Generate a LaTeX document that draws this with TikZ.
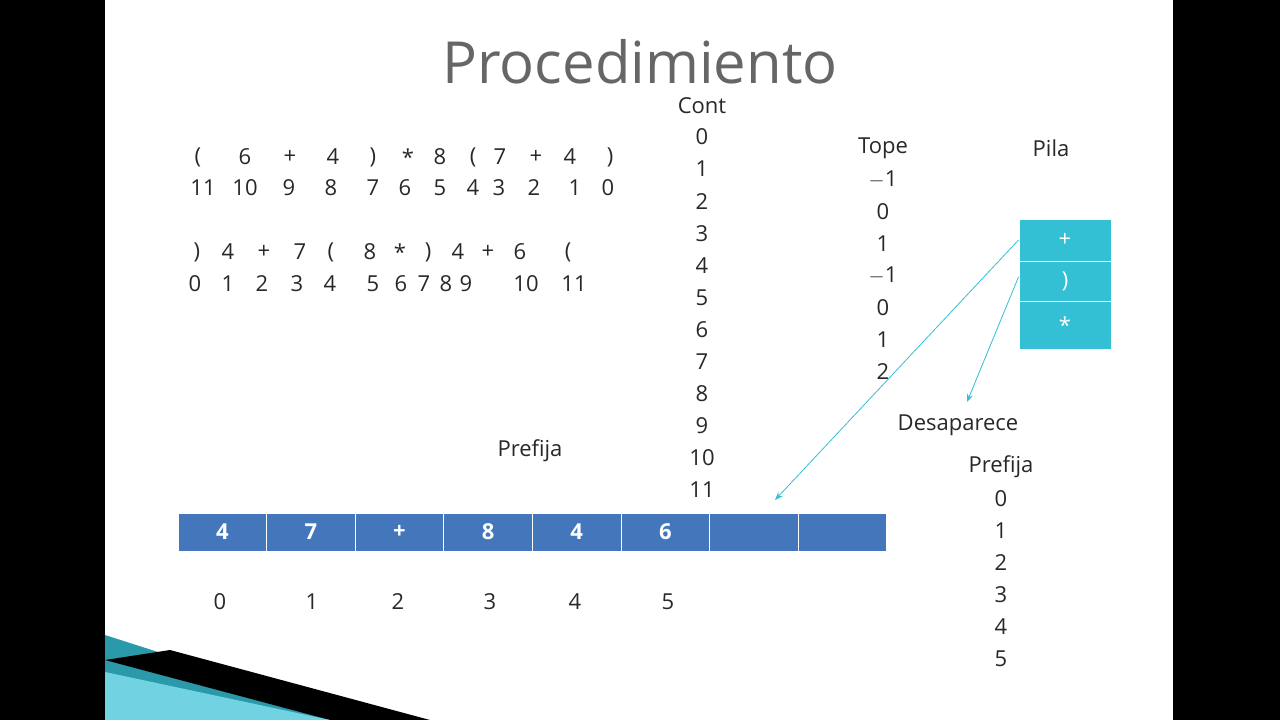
\documentclass[tikz,border=0pt]{standalone}
\usepackage{fontspec}
\setmainfont{Open Sans}
\usetikzlibrary{arrows.meta}
\definecolor{teal1}{RGB}{52,192,212}
\definecolor{arr}{RGB}{68,118,188}
\definecolor{txt}{RGB}{40,40,40}
\newcommand{\lp}{(}
\newcommand{\rp}{)}
\begin{document}
\begin{tikzpicture}[x=1pt,y=-1pt,
  t/.style={font=\fontsize{22}{24}\selectfont,text=txt,inner sep=0pt},
  cell/.style={draw=white,line width=1pt,fill=arr,minimum width=88.6pt,minimum height=38pt,inner sep=0pt,text=white,font=\fontsize{22}{24}\selectfont\bfseries},
  pcell/.style={draw=white,line width=1pt,fill=teal1,minimum width=92pt,inner sep=0pt,text=white,font=\fontsize{22}{24}\selectfont},
  conn/.style={teal1,line width=0.8pt,-{Stealth[length=8pt]}}]
\useasboundingbox (0,0) rectangle (1280,720);
\fill[black] (0,0) rectangle (1280,720);
\fill[white] (105,0) rectangle (1173,720);
\fill[teal1!80!black] (105,635) -- (370,720) -- (105,720) -- cycle;
\fill[black] (105,660) -- (170,650) -- (430,720) -- (330,720) -- cycle;
\fill[teal1!70] (105,672) -- (330,720) -- (105,720) -- cycle;
\node[text=black!60,font=\fontsize{58}{60}\selectfont,inner sep=0pt] (title) at (640,62) {Procedimiento};
\foreach \s/\x in {\lp/198,6/245,+/290,4/333,\rp/373,*/408,8/440,\lp/473,7/500,+/536,4/570,\rp/610}
  \node[t] at (\x,157) {\s};
\foreach \s/\x in {11/203,10/245,9/289,8/331,7/373,6/405,5/440,4/473,3/499,2/534,1/575,0/608}
  \node[t] at (\x,188) {\s};
\foreach \s/\x in {\rp/197,4/228,+/264,7/300,\lp/331,8/370,*/400,\rp/428,4/458,+/488,6/520,\lp/568}
  \node[t] at (\x,252) {\s};
\foreach \s/\x in {0/195,1/228,2/262,3/297,4/330,5/373,6/401,7/424,8/446,9/466,10/526,11/574}
  \node[t] at (\x,284) {\s};
\node[t] (cont) at (702,106) {Cont};
\foreach \i in {0,...,11} \node[t] at (702,137+32.1*\i) {\i};
\node[t] (tope) at (883,148) {Tope};
\foreach \s/\i in {$-$1/0,0/1,1/2,$-$1/3,0/4,1/5,2/6} \node[t] at (883,180+32*\i) {\s};
\node[t] (pila) at (1051,148) {Pila};
\node[pcell,minimum height=42pt] (p1) at (1065,240) {+};
\node[pcell,minimum height=40pt] (p2) at (1065,281) {\rp};
\node[pcell,minimum height=48pt] (p3) at (1065,325) {*};
\node[t] (des) at (958,425) {Desaparece};
\node[t] (pref2) at (1001,467) {Prefija};
\foreach \i in {0,...,5} \node[t] at (1001,499+32*\i) {\i};
\node[t] (pref) at (530,451) {Prefija};
\foreach \s/\i in {4/0,7/1,+/2,8/3,4/4,6/5,{}/6,{}/7}
  \node[cell] (c\i) at (222.3+88.6*\i,532) {\s};
\foreach \s/\x in {0/220,1/312,2/398,3/490,4/575,5/668}
  \node[t] at (\x,602) {\s};
\coordinate (e1) at (775,500);
\coordinate (e2) at (967,402);
\draw[conn] (p1.west) -- (e1);
\draw[conn] ([yshift=4pt]p2.west) -- (e2);
\end{tikzpicture}
\end{document}
